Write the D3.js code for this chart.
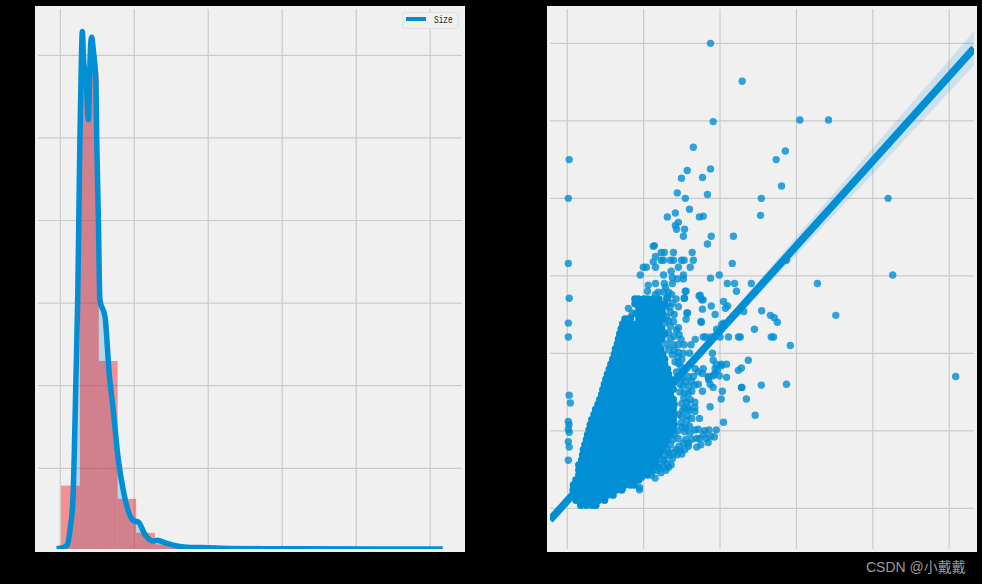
<!DOCTYPE html>
<html>
<head>
<meta charset="utf-8">
<script src="https://cdn.jsdelivr.net/npm/d3@7"></script>
<style>
html,body{margin:0;padding:0;background:#000;}
svg{display:block;}
</style>
</head>
<body>
<svg id="chart" width="982" height="584"></svg>
<script>
// ---------- left panel data ----------
const seriesName = "Size";
const leftXTicks = [0, 20, 40, 60, 80, 100];
const leftYTicks = [1, 2, 3, 4, 5, 6];
const histEdges = [0.2, 5.3, 10.4, 15.5, 20.5, 25.6, 30.6, 35.7, 40.8];
const histValues = [0.79, 5.79, 2.30, 0.63, 0.22, 0.08, 0.05, 0.03];
const kdeX = [-1, 0.8, 1.9, 2.6, 3.4, 3.8, 4.2, 4.7, 5, 5.3, 5.65, 5.95, 6.3, 7.1, 7.6, 7.9, 8.2, 8.5, 8.9, 9.6, 9.85, 10.3, 10.7, 12.1, 13.2, 14.3, 15.7, 17, 19.7, 21.1, 23, 25.1, 26.1, 28.8, 31.5, 34.2, 37.8, 45.9, 64.8, 86.4, 103.4];
const kdeY = [0.025, 0.04, 0.07, 0.25, 0.62, 1.22, 2.04, 3.04, 4, 4.98, 5.83, 6.29, 5.95, 5.62, 5.22, 5.7, 6.13, 6.22, 6.07, 5.7, 4.98, 4, 3.04, 2.83, 2.16, 1.71, 1.1, 0.74, 0.37, 0.35, 0.19, 0.12, 0.13, 0.09, 0.06, 0.045, 0.04, 0.03, 0.025, 0.022, 0.022];

// ---------- right panel data ----------
const rightXTicks = [0, 20, 40, 60, 80, 100];
const rightYTicks = [0, 10, 20, 30, 40, 50, 60];
const fitX = [-4.53, 20, 40, 60, 80, 106.5];
const fitY = [-1.5, 11.94, 22.9, 33.87, 44.83, 59.35];
const fitCI = [0.5, 0.26, 0.65, 1.16, 1.68, 2.2];

// the solid mass of overlapping points, read row by row: [rating, [sizes...]]
const cloudRows = [
 [0.4,[3.5,5,6.5,7.5]],
 [1.05,[2.25,3.75,5.25,6.75,8.25,9.75]],
 [1.7,[1.5,3,4.5,6,7.5,9,10.5,12]],
 [2.35,[1.5,2.25,3.75,5.25,6.75,8.25,9.75,11.25,12.75,14.25]],
 [3,[1.6,3,4.5,6,7.5,9,10.5,12,13.5,15,16.5,17.5]],
 [3.65,[2.25,3.75,5.25,6.75,8.25,9.75,11.25,12.75,14.25,15.75,17.25,18.75]],
 [4.3,[3,4.5,6,7.5,9,10.5,12,13.5,15,16.5,18,19.5,21]],
 [4.95,[3,3.75,5.25,6.75,8.25,9.75,11.25,12.75,14.25,15.75,17.25,18.75,20.25,21.75]],
 [5.6,[3,4.5,6,7.5,9,10.5,12,13.5,15,16.5,18,19.5,21,22.5,23]],
 [6.25,[3.75,5.25,6.75,8.25,9.75,11.25,12.75,14.25,15.75,17.25,18.75,20.25,21.75,23.25]],
 [6.9,[4,4.5,6,7.5,9,10.5,12,13.5,15,16.5,18,19.5,21,22.5,24]],
 [7.55,[4.2,5.25,6.75,8.25,9.75,11.25,12.75,14.25,15.75,17.25,18.75,20.25,21.75,23.25,24.75]],
 [8.2,[4.6,6,7.5,9,10.5,12,13.5,15,16.5,18,19.5,21,22.5,24,25.5]],
 [8.85,[5,5.25,6.75,8.25,9.75,11.25,12.75,14.25,15.75,17.25,18.75,20.25,21.75,23.25,24.75,26.25]],
 [9.5,[5.3,6,7.5,9,10.5,12,13.5,15,16.5,18,19.5,21,22.5,24,25.5,27]],
 [10.15,[5.7,6.75,8.25,9.75,11.25,12.75,14.25,15.75,17.25,18.75,20.25,21.75,23.25,24.75,26.25,27.75]],
 [10.8,[6,7.5,9,10.5,12,13.5,15,16.5,18,19.5,21,22.5,24,25.5,27,28]],
 [11.45,[6.4,6.75,8.25,9.75,11.25,12.75,14.25,15.75,17.25,18.75,20.25,21.75,23.25,24.75,26.25,27.75]],
 [12.1,[7,7.5,9,10.5,12,13.5,15,16.5,18,19.5,21,22.5,24,25.5,27,28]],
 [12.75,[7.4,8.25,9.75,11.25,12.75,14.25,15.75,17.25,18.75,20.25,21.75,23.25,24.75,26.25,27.75]],
 [13.4,[8,9,10.5,12,13.5,15,16.5,18,19.5,21,22.5,24,25.5,27,28]],
 [14.05,[8.5,9.75,11.25,12.75,14.25,15.75,17.25,18.75,20.25,21.75,23.25,24.75,26.25,27.75]],
 [14.7,[9,10.5,12,13.5,15,16.5,18,19.5,21,22.5,24,25.5,27]],
 [15.35,[9.3,9.75,11.25,12.75,14.25,15.75,17.25,18.75,20.25,21.75,23.25,24.75,26.25,27.75]],
 [16,[9.7,10.5,12,13.5,15,16.5,18,19.5,21,22.5,24,25.5,27]],
 [16.65,[10.1,11.25,12.75,14.25,15.75,17.25,18.75,20.25,21.75,23.25,24.75,26.25,27]],
 [17.3,[10.5,12,13.5,15,16.5,18,19.5,21,22.5,24,25.5,26.5]],
 [17.95,[11,11.25,12.75,14.25,15.75,17.25,18.75,20.25,21.75,23.25,24.75,26.25]],
 [18.6,[11.4,12,13.5,15,16.5,18,19.5,21,22.5,24,25.5]],
 [19.25,[11.9,12.75,14.25,15.75,17.25,18.75,20.25,21.75,23.25,24.75,25.5]],
 [19.9,[12.3,13.5,15,16.5,18,19.5,21,22.5,24,25]],
 [20.55,[12.6,14.25,15.75,17.25,18.75,20.25,21.75,23.25,24.5]],
 [21.2,[13.1,13.5,15,16.5,18,19.5,21,22.5,24]],
 [21.85,[13.4,14.25,15.75,17.25,18.75,20.25,21.75,23.25,24.75]],
 [22.5,[13.7,15,16.5,18,19.5,21,22.5,24,25.5]],
 [23.15,[14.1,15.75,17.25,18.75,20.25,21.75,23.25,24.75]],
 [23.8,[14.5,15,16.5,18,19.5,21,22.5,24]],
 [24.45,[15.1,16.5,18.75,20.25,21.75,23.25,24.75]],
 [25.1,[18,19.5,21,22.5,24,25]],
 [25.75,[18.75,20.25,21.75,23.25,24.75]],
 [26.4,[17.7,19.5,21,22.5,24,25.5]],
 [27,[17.7,18.6,20,21,22.5,24]]
];

// single readable points: [size, rating]
const loosePoints = [
 [37.5,60],[45.8,55.1],[38.2,49.9],[60.9,50.1],[68.4,50.1],[33,46.6],[0.5,45],[57.1,46.1],[54.7,45],[37.5,43.8],
 [31.4,43.6],[35.4,42.7],[29.9,42.6],[28.8,40.7],[36.7,40.5],[30.9,40],[0.27,40],[50.8,40],[56.1,41.6],[32,38.6],
 [84,40],[85.2,30.1],[70.3,24.9],[101.7,17],
 [28.3,38.1],[26.2,37.6],[34.6,37.6],[35.6,37.7],[50.6,37.8],[29.1,36.9],[28.3,36.5],[28.6,36],[30.7,36],[30.4,35.1],
 [37.7,35.1],[43.5,35.1],[36.7,34.1],[22.5,33.8],[22.8,33.9],[24.6,33],[25.4,33],[27.8,33],[32.7,33],[23.1,32.5],
 [24.6,32],[25.2,32],[27,32],[27.8,32],[29.9,32],[30.6,32],[33,32],[0.27,31.6],[43.2,31.6],[57.4,32],[22.5,31.8],
 [19.9,31.1],[20.7,31.1],[23.1,31.1],[29.1,31.1],[32.2,31.1],[27.2,30.6],[19.1,30.1],[25.2,30.1],[27.5,29.8],[30.4,30.1],
 [30.4,29.6],[28.8,29.6],[37.5,29.7],[39.8,30.1],[41.9,29],[43.8,29],[48.2,29],[65.5,29],[23.1,29],[25.4,29],[27.5,29],
 [21.2,28.8],[25.7,28.5],[21,28],[23.8,27.9],[25.2,27.9],[26.5,27.9],[27.3,27.6],[23.1,27.6],[30.9,28],[31.1,28],[44.3,28],
 [34.8,27.5],[0.5,27.1],[30.7,27.1],[35.6,26.9],[40.9,26.7],[26.2,27.1],[30.6,27.1],[26,27.1],[35.2,26.9],[34.5,27.4],
 [16,25.8],[35.4,25.7],[37.7,26.1],[42,26.1],[41.4,25.8],[38.7,25],[31.5,25.2],[29.1,26],[26.9,26],[31.3,25.2],[31.1,24.4],
 [26,24.7],[28,25],[27.8,24.1],[35,24.1],[35.1,24],[40.9,23.9],[46.2,25.4],[50.9,25.5],[53.2,24.9],[54.2,24.6],[55,24],
 [49,23.1],[0.27,23.9],[0.27,22.1],[39.1,23.1],[40.4,23.7],[29.1,23.3],[28.6,23],[29.3,22.4],[29.8,21.8],[33.5,21.8],
 [35.6,22.1],[36.2,22.1],[37.5,22.1],[40,22.1],[42.2,22.1],[44.8,22.1],[45.3,22.1],[53.4,22.1],[54,22.1],[58.4,21],
 [27.8,21.1],[29.1,21.1],[30.6,21.1],[32.4,21.1],[29.1,20.1],[30.4,20],[32,20],[38,20],[38.2,19.1],[47.4,19.1],[28.2,18.9],
 [29.1,18.7],[39,18.6],[40.3,18.6],[41.7,18.6],[45.6,18.1],[44.8,17.8],[38.7,18],[35.6,18],[33.5,18],[40.4,18.4],[39.3,17.8],
 [28.6,17.6],[34.3,17.6],[35.4,17.4],[38.5,17.3],[31.7,17],[33,17],[37,17],[39.8,17.1],[38.2,17.1],[41.7,16.9],[36.9,16.9],
 [37,16.6],[37.4,16],[38.2,15.6],[34.3,16],[33.4,15.9],[35.4,15.1],[32.6,15.1],[31.7,14.8],[40.6,15.1],[40.3,14.1],[45.7,15.6],
 [46.9,14.1],[50.8,15.9],[57.4,16],[45.6,15.6],[33.4,13.7],[37.4,13.1],[33.4,13],[33.4,12.5],[31.7,13],[34.6,11.6],[40.9,11.1],
 [32.6,11.6],[49.2,12],[34.3,10.2],[33.4,10.1],[37.1,10.1],[39,10.1],[35.6,9.5],[32.1,9.7],[30.7,9.9],[38.5,9.2],[33.9,9],
 [36.9,8.5],[36.4,9],[31.7,8.4],[30.4,8.4],[29,9],[33.9,7.9],[31.7,8],[29.3,8],[29.6,7.4],[28.8,6.9],[28,7.2],[26.5,7.2],[25.4,6.2],
 [26.5,5.3],[25.2,5.3],[24.1,5.2],[22.3,4.8],[19.5,4],[18.9,2.4],[18.9,2.7],[17,3.1],[14.4,2.5],
 [29.5,15],[30,13.5],[29.25,12.1],[29.8,11],[30.5,14.2],[29,10],[29.5,16],[28.8,17],[30.2,12.6],
 [22,4.3],[23.5,4.9],[24,5.6],[25,6.25],[25.6,6.9],[26.3,7.55],[27,8.2],[27.6,8.85],[28,9.5],
 [23,3.9],[24.5,4.6],[26,5.8],[27.2,5.6],[27.5,6.4],[26.8,6.8],[25.8,4.9],[28.5,7.6],[30,7],[30.8,7.6],[31,8.9],[32.6,8.9],
 [34.7,9],[35,8.2],[37.5,9.3],[36,10],[32,10.6],[31,10.4],[30,10.5],[31.3,11.3],[30,11.8],[31.5,12],[32,12.7],[30.7,12.9],
 [31.3,13.7],[32.2,14],[30.6,14.9],[31.8,15.7],[30.3,15.8],[31,16.4],[30,16.8],[32.5,16.4],[30,17.6],[31,18],[29.8,18.3],[32,18.5],
 [29,19.5],[30,19.2],[27.5,19.8],[28,20.4],[26.5,20.5],[26,21.2],[27,21.9],[28,22.2],[26.5,22.7],[27,23.5],[25.5,23.9],[26.5,24.2],
 [27,25.3],[25.8,26],[27.5,26.5],[28.5,27],[19,24.8],[17,25.2],[16.5,24.6],
 [0.5,14.6],[0.8,13.6],[0.27,11.2],[0.45,10.8],[0.27,10.2],[0.5,9.8],[0.27,8.6],[0.5,7.9],[0.27,6.2]
];

const scatterPointSize = 3.7;
const watermark = "CSDN @小戴戴";

// ---------- layout ----------
const svg = d3.select("#chart");
const panelL = {x0:35, x1:465, y0:6, y1:552, gx0:38, gx1:462, gy0:9, gy1:549};
const panelR = {x0:547, x1:977, y0:6, y1:552, gx0:550, gx1:974, gy0:9, gy1:549};
const BG = "#f0f0f0", GRID = "#cbcbcb", BLUE = "#008fd5";

svg.append("rect").attr("width",982).attr("height",584).attr("fill","#000");

const defs = svg.append("defs");
function setupPanel(p, name, xs, ys, xTicks, yTicks){
  svg.append("rect").attr("x",p.x0).attr("y",p.y0).attr("width",p.x1-p.x0).attr("height",p.y1-p.y0).attr("fill",BG);
  defs.append("clipPath").attr("id","clip-"+name).append("rect")
    .attr("x",p.gx0).attr("y",p.gy0).attr("width",p.gx1-p.gx0).attr("height",p.gy1-p.gy0);
  const gx = svg.append("g").attr("transform",`translate(0,${p.gy1})`)
    .call(d3.axisBottom(xs).tickValues(xTicks).tickSize(-(p.gy1-p.gy0)).tickFormat("").offset(0));
  const gy = svg.append("g").attr("transform",`translate(${p.gx0},0)`)
    .call(d3.axisLeft(ys).tickValues(yTicks).tickSize(-(p.gx1-p.gx0)).tickFormat("").offset(0));
  [gx,gy].forEach(g=>{
    g.select(".domain").remove();
    g.selectAll("line").attr("stroke",GRID).attr("stroke-width",1.2);
  });
  return svg.append("g").attr("clip-path",`url(#clip-${name})`);
}

// ---------- left: histogram + KDE ----------
const xL = d3.scaleLinear().domain([-6.03,108.6]).range([panelL.gx0,panelL.gx1]);
const yL = d3.scaleLinear().domain([0.023,6.561]).range([panelL.gy1,panelL.gy0]);
const left = setupPanel(panelL,"l",xL,yL,leftXTicks,leftYTicks);

const kde = kdeX.map((x,i)=>[x,kdeY[i]]);
left.append("path").datum(kde)
  .attr("d",d3.area().curve(d3.curveMonotoneX).x(d=>xL(d[0])).y0(panelL.gy1).y1(d=>yL(d[1])))
  .attr("fill",BLUE).attr("fill-opacity",0.25);

left.append("g").selectAll("rect").data(histValues).join("rect")
  .attr("x",(d,i)=>xL(histEdges[i]))
  .attr("width",(d,i)=>xL(histEdges[i+1])-xL(histEdges[i]))
  .attr("y",d=>yL(d))
  .attr("height",d=>panelL.gy1-yL(d))
  .attr("fill","#ff0000").attr("fill-opacity",0.4);

left.append("path").datum(kde)
  .attr("d",d3.line().curve(d3.curveMonotoneX).x(d=>xL(d[0])).y(d=>yL(d[1])))
  .attr("fill","none").attr("stroke",BLUE).attr("stroke-width",5.5).attr("stroke-linejoin","round");

// legend
const lg = svg.append("g");
lg.append("rect").attr("x",402.7).attr("y",12.3).attr("width",55.6).attr("height",16).attr("rx",2)
  .attr("fill",BG).attr("stroke","#dfe0e0").attr("stroke-width",1);
lg.append("line").attr("x1",406).attr("x2",426).attr("y1",19).attr("y2",19)
  .attr("stroke",BLUE).attr("stroke-width",4);
lg.append("text").attr("x",434).attr("y",23.3).text(seriesName)
  .attr("font-family","'Liberation Mono','DejaVu Sans Mono',monospace").attr("font-size",10.5)
  .attr("textLength",18.7).attr("lengthAdjust","spacingAndGlyphs").attr("fill","#222");

// ---------- right: scatter + regression ----------
const xR = d3.scaleLinear().domain([-4.53,106.5]).range([panelR.gx0,panelR.gx1]);
const yR = d3.scaleLinear().domain([-5.25,64.43]).range([panelR.gy1,panelR.gy0]);
const right = setupPanel(panelR,"r",xR,yR,rightXTicks,rightYTicks);

const cloud = cloudRows.flatMap(([y,xs])=>xs.map(x=>[x,y]));
const rOuter = svg.append("g");
rOuter.append("g").selectAll("circle").data(loosePoints).join("circle")
  .attr("cx",d=>xR(d[0])).attr("cy",d=>yR(d[1])).attr("r",scatterPointSize)
  .attr("fill",BLUE).attr("fill-opacity",0.8);
rOuter.append("g").selectAll("circle").data(cloud).join("circle")
  .attr("cx",d=>xR(d[0])).attr("cy",d=>yR(d[1])).attr("r",scatterPointSize)
  .attr("fill",BLUE);

const fit = fitX.map((x,i)=>[x,fitY[i],fitCI[i]]);
const rClip = svg.append("g").attr("clip-path","url(#clip-r)");
rClip.append("path").datum(fit)
  .attr("d",d3.area().x(d=>xR(d[0])).y0(d=>yR(d[1]-d[2])).y1(d=>yR(d[1]+d[2])))
  .attr("fill",BLUE).attr("fill-opacity",0.15);
rClip.append("path").datum(fit)
  .attr("d",d3.line().x(d=>xR(d[0])).y(d=>yR(d[1])))
  .attr("fill","none").attr("stroke",BLUE).attr("stroke-width",7.5);

// watermark
svg.append("text").attr("x",866).attr("y",572).text(watermark)
  .attr("font-family","'Liberation Sans','Noto Sans CJK SC',sans-serif").attr("font-size",14)
  .attr("fill","#9d9d9d");
</script>
</body>
</html>
